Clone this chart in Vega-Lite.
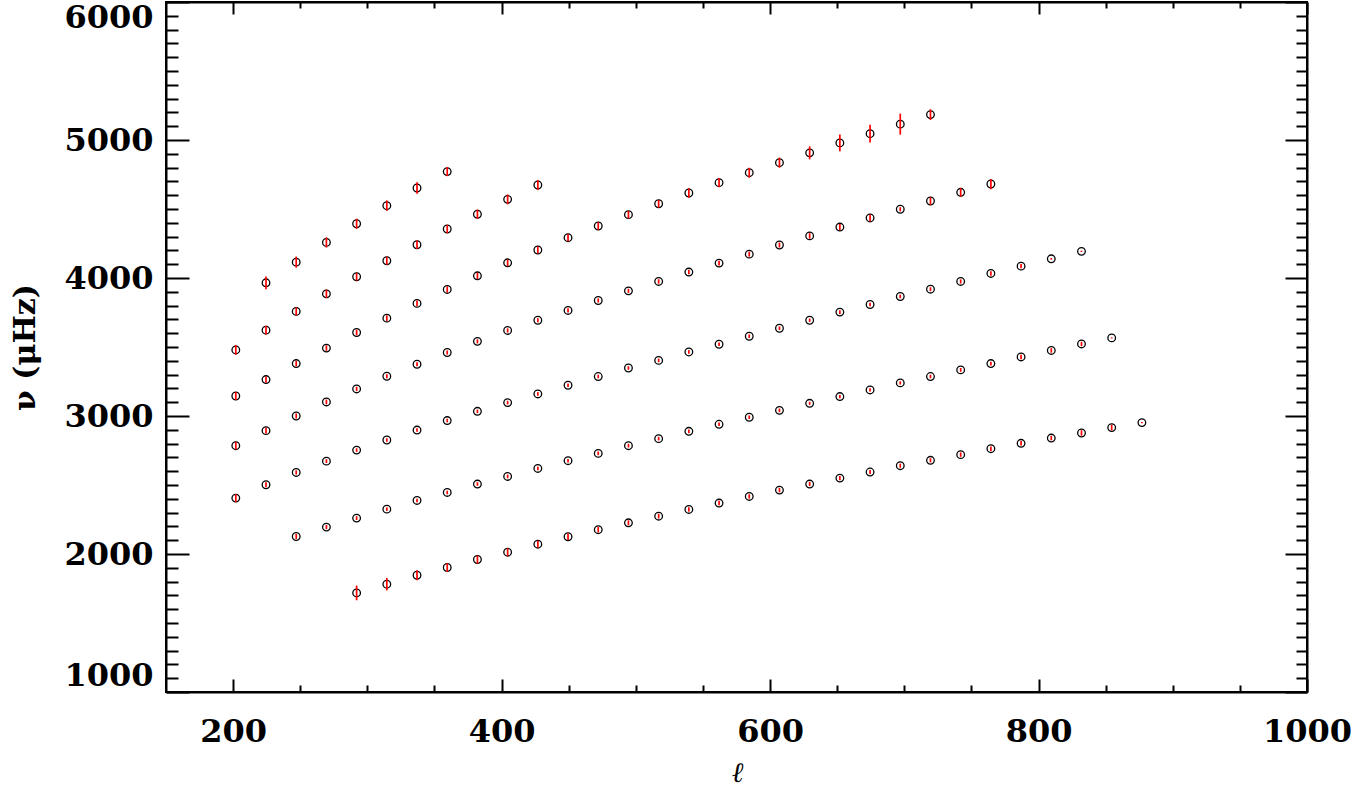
{
  "$schema": "https://vega.github.io/schema/vega-lite/v6.json",
  "width": 1141,
  "height": 690,
  "autosize": {"type": "none"},
  "padding": {"left": 166, "top": 2, "right": 44, "bottom": 98},
  "background": "white",
  "config": {"view": {"stroke": "black", "strokeWidth": 2}},
  "data": {"values": [
    {"n": "A", "l": 224.5, "nu": 3965, "err": 46},
    {"n": "A", "l": 247, "nu": 4115, "err": 40},
    {"n": "A", "l": 269.5, "nu": 4258, "err": 37},
    {"n": "A", "l": 292, "nu": 4393, "err": 37},
    {"n": "A", "l": 314.5, "nu": 4524, "err": 38},
    {"n": "A", "l": 337, "nu": 4652, "err": 41},
    {"n": "A", "l": 359.5, "nu": 4771, "err": 33},

    {"n": "B", "l": 202, "nu": 3479, "err": 36},
    {"n": "B", "l": 224.5, "nu": 3622, "err": 32},
    {"n": "B", "l": 247, "nu": 3758, "err": 30},
    {"n": "B", "l": 269.5, "nu": 3885, "err": 31},
    {"n": "B", "l": 292, "nu": 4009, "err": 28},
    {"n": "B", "l": 314.5, "nu": 4125, "err": 29},
    {"n": "B", "l": 337, "nu": 4241, "err": 30},
    {"n": "B", "l": 359.5, "nu": 4355, "err": 30},
    {"n": "B", "l": 382, "nu": 4462, "err": 34},
    {"n": "B", "l": 404.5, "nu": 4570, "err": 36},
    {"n": "B", "l": 427, "nu": 4674, "err": 36},

    {"n": "C", "l": 202, "nu": 3145, "err": 29},
    {"n": "C", "l": 224.5, "nu": 3264, "err": 23},
    {"n": "C", "l": 247, "nu": 3380, "err": 20},
    {"n": "C", "l": 269.5, "nu": 3492, "err": 20},
    {"n": "C", "l": 292, "nu": 3605, "err": 20},
    {"n": "C", "l": 314.5, "nu": 3709, "err": 20},
    {"n": "C", "l": 337, "nu": 3816, "err": 21},
    {"n": "C", "l": 359.5, "nu": 3917, "err": 22},
    {"n": "C", "l": 382, "nu": 4016, "err": 23},
    {"n": "C", "l": 404.5, "nu": 4110, "err": 24},
    {"n": "C", "l": 427, "nu": 4203, "err": 25},
    {"n": "C", "l": 449.5, "nu": 4292, "err": 26},
    {"n": "C", "l": 472, "nu": 4377, "err": 27},
    {"n": "C", "l": 494.5, "nu": 4459, "err": 27},
    {"n": "C", "l": 517, "nu": 4538, "err": 28},
    {"n": "C", "l": 539.5, "nu": 4616, "err": 35},
    {"n": "C", "l": 562, "nu": 4691, "err": 33},
    {"n": "C", "l": 584.5, "nu": 4763, "err": 36},
    {"n": "C", "l": 607, "nu": 4836, "err": 37},
    {"n": "C", "l": 629.5, "nu": 4907, "err": 47},
    {"n": "C", "l": 652, "nu": 4979, "err": 60},
    {"n": "C", "l": 674.5, "nu": 5046, "err": 65},
    {"n": "C", "l": 697, "nu": 5115, "err": 76},
    {"n": "C", "l": 719.5, "nu": 5184, "err": 39},

    {"n": "D", "l": 202, "nu": 2785, "err": 27},
    {"n": "D", "l": 224.5, "nu": 2894, "err": 20},
    {"n": "D", "l": 247, "nu": 3000, "err": 18},
    {"n": "D", "l": 269.5, "nu": 3102, "err": 17},
    {"n": "D", "l": 292, "nu": 3196, "err": 16},
    {"n": "D", "l": 314.5, "nu": 3288, "err": 15},
    {"n": "D", "l": 337, "nu": 3375, "err": 15},
    {"n": "D", "l": 359.5, "nu": 3460, "err": 15},
    {"n": "D", "l": 382, "nu": 3541, "err": 15},
    {"n": "D", "l": 404.5, "nu": 3620, "err": 15},
    {"n": "D", "l": 427, "nu": 3694, "err": 15},
    {"n": "D", "l": 449.5, "nu": 3765, "err": 15},
    {"n": "D", "l": 472, "nu": 3837, "err": 15},
    {"n": "D", "l": 494.5, "nu": 3907, "err": 15},
    {"n": "D", "l": 517, "nu": 3975, "err": 16},
    {"n": "D", "l": 539.5, "nu": 4043, "err": 16},
    {"n": "D", "l": 562, "nu": 4108, "err": 17},
    {"n": "D", "l": 584.5, "nu": 4173, "err": 18},
    {"n": "D", "l": 607, "nu": 4239, "err": 18},
    {"n": "D", "l": 629.5, "nu": 4305, "err": 20},
    {"n": "D", "l": 652, "nu": 4369, "err": 22},
    {"n": "D", "l": 674.5, "nu": 4435, "err": 24},
    {"n": "D", "l": 697, "nu": 4498, "err": 15},
    {"n": "D", "l": 719.5, "nu": 4558, "err": 27},
    {"n": "D", "l": 742, "nu": 4621, "err": 32},
    {"n": "D", "l": 764.5, "nu": 4681, "err": 37},

    {"n": "E", "l": 202, "nu": 2405, "err": 29},
    {"n": "E", "l": 224.5, "nu": 2502, "err": 18},
    {"n": "E", "l": 247, "nu": 2591, "err": 15},
    {"n": "E", "l": 269.5, "nu": 2673, "err": 14},
    {"n": "E", "l": 292, "nu": 2753, "err": 13},
    {"n": "E", "l": 314.5, "nu": 2826, "err": 13},
    {"n": "E", "l": 337, "nu": 2898, "err": 13},
    {"n": "E", "l": 359.5, "nu": 2967, "err": 13},
    {"n": "E", "l": 382, "nu": 3034, "err": 13},
    {"n": "E", "l": 404.5, "nu": 3097, "err": 13},
    {"n": "E", "l": 427, "nu": 3160, "err": 13},
    {"n": "E", "l": 449.5, "nu": 3223, "err": 13},
    {"n": "E", "l": 472, "nu": 3286, "err": 13},
    {"n": "E", "l": 494.5, "nu": 3348, "err": 13},
    {"n": "E", "l": 517, "nu": 3403, "err": 13},
    {"n": "E", "l": 539.5, "nu": 3464, "err": 13},
    {"n": "E", "l": 562, "nu": 3520, "err": 13},
    {"n": "E", "l": 584.5, "nu": 3578, "err": 13},
    {"n": "E", "l": 607, "nu": 3636, "err": 13},
    {"n": "E", "l": 629.5, "nu": 3694, "err": 12},
    {"n": "E", "l": 652, "nu": 3753, "err": 13},
    {"n": "E", "l": 674.5, "nu": 3808, "err": 13},
    {"n": "E", "l": 697, "nu": 3866, "err": 13},
    {"n": "E", "l": 719.5, "nu": 3919, "err": 14},
    {"n": "E", "l": 742, "nu": 3975, "err": 15},
    {"n": "E", "l": 764.5, "nu": 4033, "err": 16},
    {"n": "E", "l": 787, "nu": 4086, "err": 16},
    {"n": "E", "l": 809.5, "nu": 4139, "err": 6},
    {"n": "E", "l": 832, "nu": 4193, "err": 5},

    {"n": "F", "l": 247, "nu": 2127, "err": 18},
    {"n": "F", "l": 269.5, "nu": 2195, "err": 15},
    {"n": "F", "l": 292, "nu": 2260, "err": 14},
    {"n": "F", "l": 314.5, "nu": 2325, "err": 13},
    {"n": "F", "l": 337, "nu": 2388, "err": 13},
    {"n": "F", "l": 359.5, "nu": 2446, "err": 13},
    {"n": "F", "l": 382, "nu": 2507, "err": 13},
    {"n": "F", "l": 404.5, "nu": 2562, "err": 13},
    {"n": "F", "l": 427, "nu": 2620, "err": 13},
    {"n": "F", "l": 449.5, "nu": 2676, "err": 13},
    {"n": "F", "l": 472, "nu": 2729, "err": 13},
    {"n": "F", "l": 494.5, "nu": 2785, "err": 13},
    {"n": "F", "l": 517, "nu": 2836, "err": 13},
    {"n": "F", "l": 539.5, "nu": 2889, "err": 13},
    {"n": "F", "l": 562, "nu": 2940, "err": 13},
    {"n": "F", "l": 584.5, "nu": 2991, "err": 13},
    {"n": "F", "l": 607, "nu": 3041, "err": 13},
    {"n": "F", "l": 629.5, "nu": 3092, "err": 11},
    {"n": "F", "l": 652, "nu": 3141, "err": 12},
    {"n": "F", "l": 674.5, "nu": 3189, "err": 12},
    {"n": "F", "l": 697, "nu": 3240, "err": 12},
    {"n": "F", "l": 719.5, "nu": 3286, "err": 13},
    {"n": "F", "l": 742, "nu": 3334, "err": 14},
    {"n": "F", "l": 764.5, "nu": 3380, "err": 14},
    {"n": "F", "l": 787, "nu": 3428, "err": 16},
    {"n": "F", "l": 809.5, "nu": 3475, "err": 16},
    {"n": "F", "l": 832, "nu": 3522, "err": 16},
    {"n": "F", "l": 854.5, "nu": 3566, "err": 4},

    {"n": "G", "l": 292, "nu": 1718, "err": 53},
    {"n": "G", "l": 314.5, "nu": 1781, "err": 45},
    {"n": "G", "l": 337, "nu": 1846, "err": 36},
    {"n": "G", "l": 359.5, "nu": 1902, "err": 32},
    {"n": "G", "l": 382, "nu": 1960, "err": 30},
    {"n": "G", "l": 404.5, "nu": 2013, "err": 29},
    {"n": "G", "l": 427, "nu": 2071, "err": 25},
    {"n": "G", "l": 449.5, "nu": 2125, "err": 23},
    {"n": "G", "l": 472, "nu": 2176, "err": 20},
    {"n": "G", "l": 494.5, "nu": 2226, "err": 18},
    {"n": "G", "l": 517, "nu": 2274, "err": 17},
    {"n": "G", "l": 539.5, "nu": 2323, "err": 16},
    {"n": "G", "l": 562, "nu": 2369, "err": 16},
    {"n": "G", "l": 584.5, "nu": 2417, "err": 16},
    {"n": "G", "l": 607, "nu": 2463, "err": 16},
    {"n": "G", "l": 629.5, "nu": 2507, "err": 15},
    {"n": "G", "l": 652, "nu": 2550, "err": 15},
    {"n": "G", "l": 674.5, "nu": 2594, "err": 15},
    {"n": "G", "l": 697, "nu": 2640, "err": 15},
    {"n": "G", "l": 719.5, "nu": 2679, "err": 15},
    {"n": "G", "l": 742, "nu": 2720, "err": 16},
    {"n": "G", "l": 764.5, "nu": 2763, "err": 16},
    {"n": "G", "l": 787, "nu": 2802, "err": 16},
    {"n": "G", "l": 809.5, "nu": 2840, "err": 16},
    {"n": "G", "l": 832, "nu": 2877, "err": 20},
    {"n": "G", "l": 854.5, "nu": 2916, "err": 20},
    {"n": "G", "l": 877, "nu": 2952, "err": 4}
  ]},
  "layer": [
    {
      "mark": {"type": "point", "shape": "circle", "filled": false, "stroke": "black", "strokeWidth": 1.3, "size": 58, "opacity": 1},
      "encoding": {
        "x": {
          "field": "l", "type": "quantitative",
          "scale": {"domain": [150, 1000], "nice": false, "zero": false},
          "axis": {
            "orient": "bottom",
            "values": [200, 250, 300, 350, 400, 450, 500, 550, 600, 650, 700, 750, 800, 850, 900, 950, 1000],
            "tickSize": {"condition": {"test": "datum.value % 200 === 0", "value": -13}, "value": -7},
            "tickWidth": 2, "tickColor": "black",
            "domain": true, "domainColor": "black", "domainWidth": 2, "grid": false,
            "labelExpr": "datum.value % 200 === 0 ? datum.label : ''",
            "format": "d", "labelFlush": false, "labelOverlap": false,
            "labelFont": "DejaVu Serif", "labelFontWeight": "bold", "labelFontSize": 32, "labelColor": "black",
            "labelPadding": 37,
            "title": "ℓ", "titleFont": "DejaVu Serif", "titleFontStyle": "italic", "titleFontWeight": "normal",
            "titleFontSize": 28, "titleColor": "black", "titleX": 571, "titleY": 89,
            "titleBaseline": "alphabetic", "titleAlign": "center"
          }
        },
        "y": {
          "field": "nu", "type": "quantitative",
          "scale": {"domain": [1000, 6000], "nice": false, "zero": false},
          "axis": {
            "orient": "left",
            "values": [1000, 1100, 1200, 1300, 1400, 1500, 1600, 1700, 1800, 1900, 2000, 2100, 2200, 2300, 2400, 2500, 2600, 2700, 2800, 2900, 3000, 3100, 3200, 3300, 3400, 3500, 3600, 3700, 3800, 3900, 4000, 4100, 4200, 4300, 4400, 4500, 4600, 4700, 4800, 4900, 5000, 5100, 5200, 5300, 5400, 5500, 5600, 5700, 5800, 5900, 6000],
            "tickSize": {"condition": {"test": "datum.value % 1000 === 0", "value": -23}, "value": -12},
            "tickWidth": 2, "tickColor": "black",
            "domain": true, "domainColor": "black", "domainWidth": 2, "grid": false,
            "labelExpr": "datum.value % 1000 === 0 ? datum.label : ''",
            "format": "d", "labelFlush": true, "labelFlushOffset": 0, "labelOverlap": false,
            "labelFont": "DejaVu Serif", "labelFontWeight": "bold", "labelFontSize": 32, "labelColor": "black",
            "labelPadding": 36,
            "title": "ν  (μHz)", "titleFont": "DejaVu Serif", "titleFontWeight": "bold",
            "titleFontSize": 30, "titleColor": "black", "titleAngle": -90,
            "titleX": -141, "titleY": 345, "titleBaseline": "middle", "titleAlign": "center"
          }
        }
      }
    },
    {
      "mark": {"type": "errorbar", "color": "red", "thickness": 1.7},
      "encoding": {
        "x": {
          "field": "l", "type": "quantitative",
          "axis": {
            "orient": "top",
            "values": [200, 250, 300, 350, 400, 450, 500, 550, 600, 650, 700, 750, 800, 850, 900, 950, 1000],
            "tickSize": {"condition": {"test": "datum.value % 200 === 0", "value": -12}, "value": -6},
            "tickWidth": 2, "tickColor": "black",
            "domain": true, "domainColor": "black", "domainWidth": 2, "grid": false,
            "labels": false, "title": null
          }
        },
        "y": {
          "field": "nu", "type": "quantitative",
          "axis": {
            "orient": "right",
            "values": [1000, 1100, 1200, 1300, 1400, 1500, 1600, 1700, 1800, 1900, 2000, 2100, 2200, 2300, 2400, 2500, 2600, 2700, 2800, 2900, 3000, 3100, 3200, 3300, 3400, 3500, 3600, 3700, 3800, 3900, 4000, 4100, 4200, 4300, 4400, 4500, 4600, 4700, 4800, 4900, 5000, 5100, 5200, 5300, 5400, 5500, 5600, 5700, 5800, 5900, 6000],
            "tickSize": {"condition": {"test": "datum.value % 1000 === 0", "value": -22}, "value": -11},
            "tickWidth": 2, "tickColor": "black",
            "domain": true, "domainColor": "black", "domainWidth": 2, "grid": false,
            "labels": false, "title": null
          }
        },
        "yError": {"field": "err"}
      }
    }
  ],
  "resolve": {"axis": {"x": "independent", "y": "independent"}}
}
